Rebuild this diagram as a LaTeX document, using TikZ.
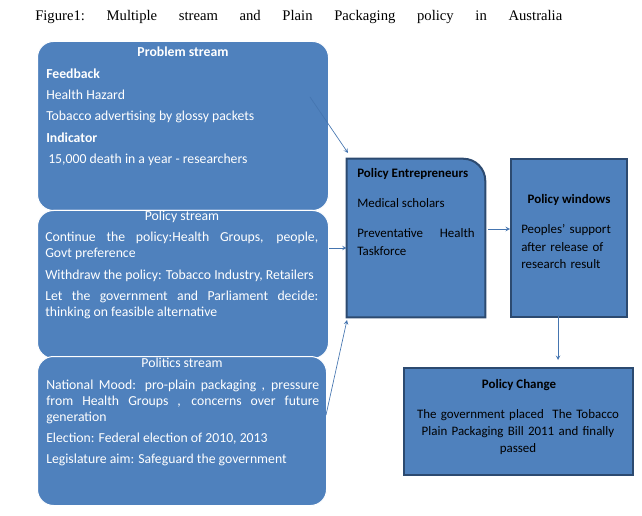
\documentclass[tikz,border=0pt]{standalone}
\usepackage{fontspec}
\setmainfont{Carlito}
\newfontfamily\titlefont{Liberation Serif}
\usetikzlibrary{arrows}
\definecolor{boxblue}{HTML}{4F81BD}
\definecolor{boxedge}{HTML}{2C4A70}
\definecolor{arrowblue}{HTML}{4575B0}
\tikzstyle{stream} = [rectangle, rounded corners=12pt, draw=white, line width=.75pt, fill=boxblue]
\tikzstyle{actor} = [rectangle, draw=boxedge, line width=1.5pt, fill=boxblue]
\tikzstyle{txt} = [inner sep=0pt, anchor=base west, font=\fontsize{10.3}{12}\selectfont]
\tikzstyle{wtxt} = [txt, text=white]
\tikzstyle{jtxt} = [wtxt, text width=204.75pt, align=justify]
\tikzstyle{rtxt} = [txt, font=\fontsize{9.7}{13}\selectfont]
\tikzstyle{head} = [txt, anchor=base]
\tikzstyle{arrow} = [line width=.5pt,arrowblue,->,>=stealth]

\begin{document}
\begin{tikzpicture}[x=.75pt,y=-.75pt]
\useasboundingbox (0,0) rectangle (642,516);
\node[inner sep=0pt,anchor=base west,font=\titlefont\fontsize{11}{13}\selectfont] (title) at (35,21) {\frenchspacing\makebox[395.25pt][s]{Figure1: Multiple stream and Plain Packaging policy in Australia}};

\node[stream,minimum width=218.25pt,minimum height=126.75pt] (problem) at (183,126) {};
\node[stream,minimum width=218.25pt,minimum height=111pt] (policy) at (183,284.5) {};
\node[stream,minimum width=216.75pt,minimum height=111.75pt] (politics) at (182,431) {};
\node[minimum width=103.5pt,minimum height=118.5pt] (entre) at (416,238) {};
\draw[actor] (entre.south west) -- (entre.north west) -- ([xshift=-16.5pt]entre.north east) arc[start angle=90,end angle=0,radius=16.5pt] -- (entre.south east) -- cycle;
\node[actor,minimum width=87pt,minimum height=118.5pt] (windows) at (569,238) {};
\node[actor,minimum width=171.75pt,minimum height=80.25pt] (change) at (518.5,421.5) {};

% problem stream
\node[head,text=white] (ptitle) at (183,57) {\textbf{Problem stream}};
\node[wtxt] (p1) at (46,79) {\textbf{Feedback}};
\node[wtxt] (p2) at (46,100) {Health Hazard};
\node[wtxt] (p3) at (46,121) {Tobacco advertising by glossy packets};
\node[wtxt] (p4) at (46,143) {\textbf{Indicator}};
\node[wtxt] (p5) at (48,164) {15,000 death in a year - researchers};

% policy stream
\node[head,text=white] (ltitle) at (182,221) {Policy stream};
\node[jtxt] (l1) at (45,242) {Continue the policy:Health Groups, people,\linebreak Govt preference};
\node[jtxt] (l2) at (45,280) {Withdraw the policy: Tobacco Industry, Retailers};
\node[jtxt] (l3) at (45,301) {Let the government and Parliament decide:\linebreak thinking on feasible alternative};

% politics stream
\node[head,text=white] (ntitle) at (182,368) {Politics stream};
\node[jtxt] (n1) at (46,389) {National Mood: pro-plain packaging , pressure\linebreak from Health Groups , concerns over future\linebreak generation};
\node[wtxt] (n2) at (46,442) {Election: Federal election of 2010, 2013};
\node[wtxt] (n3) at (46,463) {Legislature aim: Safeguard the government};

% right hand boxes
\node[rtxt] (e1) at (357,178) {\textbf{Policy Entrepreneurs}};
\node[rtxt] (e2) at (357,208) {Medical scholars};
\node[rtxt,text width=88pt,align=justify] (e3) at (357,238) {Preventative Health Taskforce};
\node[rtxt,anchor=base] (w1) at (569,204) {\textbf{Policy windows}};
\node[rtxt,text width=80pt,align=left] (w2) at (521,234) {Peoples’ support\\after release of\\research result};
\node[rtxt,anchor=base] (c1) at (519,388) {\textbf{Policy Change}};
\node[rtxt,anchor=base,text width=165pt,align=center] (c2) at (518,418) {The government placed\ \ The Tobacco\\Plain Packaging Bill 2011 and finally\\passed};

% connectors
\coordinate (a1) at (310,97);
\coordinate (a2) at (348,153);
\coordinate (b1) at (329,248);
\coordinate (c3) at (326,415);
\coordinate (c4) at (347,320);
\coordinate (d1) at (488,229);
\coordinate (f1) at (558,315);
\coordinate (f2) at (558,360);
\draw[arrow] (a1) -- (a2);
\draw[arrow] (b1) -- (b1-|entre.west);
\draw[arrow] (c3) -- (c4);
\draw[arrow] (d1) -- (d1-|windows.west);
\draw[arrow] (f1) -- (f2);
\end{tikzpicture}
\end{document}
